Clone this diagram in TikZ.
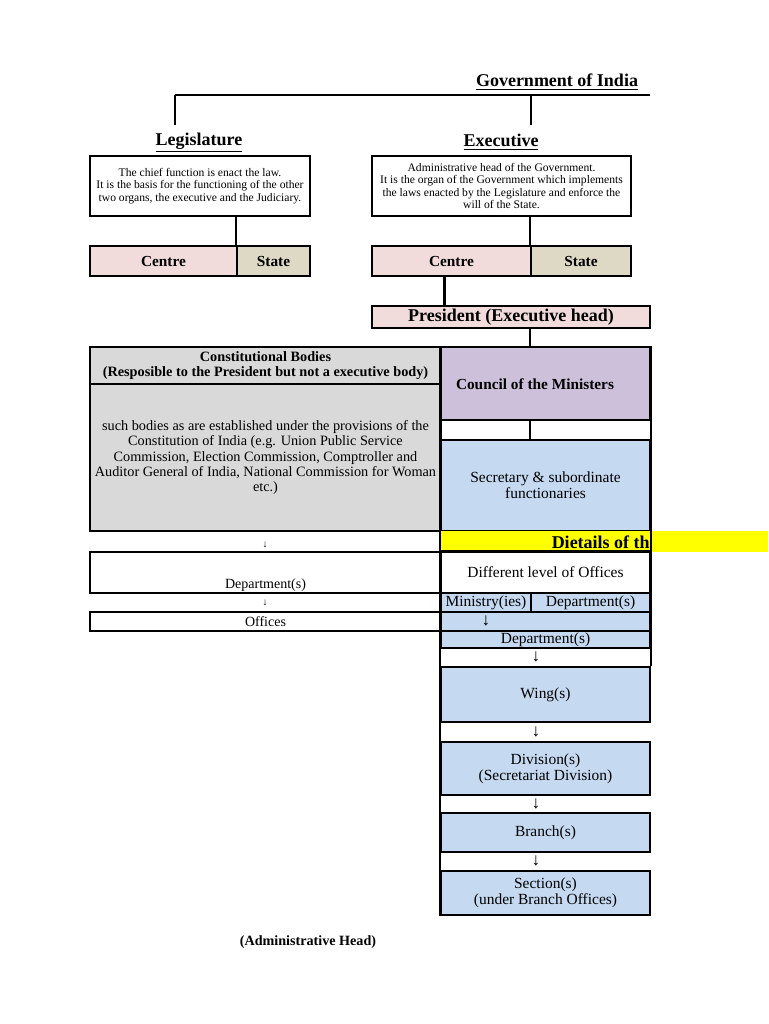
\documentclass[tikz,border=0pt]{standalone}
\usepackage{fontspec}
\setmainfont{Liberation Serif}
\usetikzlibrary{fit}
\definecolor{pinkc}{HTML}{F2DCDB}
\definecolor{tanc}{HTML}{DDD9C4}
\definecolor{grayc}{HTML}{D9D9D9}
\definecolor{purplec}{HTML}{CCC0DA}
\definecolor{bluec}{HTML}{C5D9F1}
\definecolor{yellowc}{HTML}{FFFF00}
\newcommand{\fsz}[2]{\fontsize{#1}{#2}\selectfont}
\begin{document}
\begin{tikzpicture}[x=0.75pt,y=-0.75pt,
  box/.style={draw, line width=1.5pt, inner sep=0pt},
  txt/.style={inner sep=0pt, align=center},
  conn/.style={line width=2.2pt},
  thinconn/.style={line width=1.5pt},
  small/.style={font=\fsz{8.7}{9.4}},
  body/.style={font=\fsz{10.7}{11.3}},
  rbody/.style={font=\fsz{11.6}{12}},
  bodyb/.style={font=\bfseries\fsz{11.5}{12}},
  head/.style={font=\bfseries\fsz{13.5}{15}},
  arrowtxt/.style={font=\fsz{13}{13}},
  tinyarrow/.style={font=\fsz{7.5}{8}}]
\useasboundingbox (0,0) rectangle (768,1024);
\fill[white] (0,0) rectangle (768,1024);

% title
\node[head] (gov) at (557,82) {\underline{Government of India}};
\coordinate (tl) at (175,95);
\coordinate (tm) at (531,95);
\coordinate (tr) at (650,95);
\coordinate (tlb) at (175,125);
\coordinate (tmb) at (531,125);
\draw[conn] (tl) -- (tr);
\draw[conn] (tl) -- (tlb);
\draw[conn] (tm) -- (tmb);

% legislature
\node[head] (legt) at (199,143) {\underline{Legislature}};
\node[box, fit={(90,156) (310,216)}] (legbox) {};
\node[txt, small] (legtxt) at (legbox.center) {The chief function is enact the law.\\It is the basis for the functioning of the other\\two organs, the executive and the Judiciary.};
\node[box, fill=pinkc, fit={(90,246) (237,276)}] (lcentre) {};
\node[txt, bodyb] (lcentret) at (lcentre.center) {Centre};
\node[box, fill=tanc, fit={(237,246) (310,276)}] (lstate) {};
\node[txt, bodyb] (lstatet) at (lstate.center) {State};
\draw[thinconn] (legbox.south -| lstate.west) -- (lstate.north west);

% executive
\node[head] (exet) at (501,142) {\underline{Executive}};
\node[box, fit={(372,156) (631,216)}] (exbox) {};
\node[txt, small] (extxt) at (exbox.center) {Administrative head of the Government.\\It is the organ of the Government which implements\\the laws enacted by the Legislature and enforce the\\will of the State.};
\node[box, fill=pinkc, fit={(372,246) (531,276)}] (rcentre) {};
\node[txt, bodyb] (rcentret) at (rcentre.center) {Centre};
\node[box, fill=tanc, fit={(531,246) (631,276)}] (rstate) {};
\node[txt, bodyb] (rstatet) at (rstate.center) {State};
\draw[conn] (exbox.south -| rstate.west) -- (rstate.north west);

% president
\node[box, fill=pinkc, fit={(372,306) (650,328)}] (pres) {};
\node[txt, head] (prest) at (pres.center) {President (Executive head)};
\draw[conn] ([xshift=-5.5pt]rcentre.south) -- ([xshift=-5.5pt]rcentre.south |- pres.north);

% constitutional bodies
\node[box, fill=grayc, fit={(90,347) (441,384)}] (cbhead) {};
\node[txt, font=\bfseries\fsz{10.7}{11.5}] (cbheadt) at (cbhead.center) {Constitutional Bodies\\(Resposible to the President but not a executive body)};
\node[box, fill=grayc, fit={(90,384) (441,531)}] (cbbody) {};
\node[txt, body] (cbbodyt) at (cbbody.center) {such bodies as are established under the provisions of the\\Constitution of India (e.g. Union Public Service\\Commission, Election Commission, Comptroller and\\Auditor General of India, National Commission for Woman\\etc.)};

% council
\node[box, fill=purplec, fit={(441,347) (650,420)}] (council) {};
\node[txt, bodyb] (councilt) at (535,384) {Council of the Ministers};
\draw[conn] (pres.south -| rstate.west) -- (council.north -| rstate.west);
\node[box, fill=bluec, fit={(441,440) (650,531)}] (sec) {};
\node[txt, rbody] (sect) at (sec.center) {Secretary \& subordinate\\functionaries};
\draw[conn] (council.south -| rstate.west) -- (sec.north -| rstate.west);

% details band
\fill[yellowc] (441,531) rectangle (768,552);
\node[font=\bfseries\fsz{13.5}{14}, anchor=east, inner sep=0pt] (det) at (650,542.5) {Dietails of th};

% left lower column
\node[tinyarrow] (la1) at (265,545) {↓};
\node[box, fit={(90,552) (441,593)}] (ldept) {};
\node[font=\fsz{10.5}{11}, anchor=south, inner sep=1.5pt] (ldeptt) at (ldept.south) {Department(s)};
\node[tinyarrow] (la2) at (265,603) {↓};
\node[box, fit={(90,612) (441,631)}] (loff) {};
\node[txt, font=\fsz{10.5}{11}] (lofft) at (loff.center) {Offices};

% right lower column
\node[box, fit={(441,552) (650,593)}] (diff) {};
\node[txt, rbody] (difft) at (diff.center) {Different level of Offices};
\node[box, fill=bluec, line width=0.8pt, fit={(441,593) (531,612)}] (min) {};
\node[txt, rbody] (mint) at (min.center) {Ministry(ies)};
\node[box, fill=bluec, line width=0.8pt, fit={(531,593) (650,612)}] (rdept1) {};
\node[txt, rbody] (rdept1t) at (rdept1.center) {Department(s)};
\node[box, fill=bluec, line width=0.8pt, fit={(441,612) (650,631)}] (arow) {};
\node[arrowtxt] (ra0) at (486,621) {↓};
\node[box, fill=bluec, fit={(441,631) (650,648)}] (rdept2) {};
\node[txt, rbody] (rdept2t) at (rdept2.center) {Department(s)};
\node[arrowtxt] (ra1) at (536,657) {↓};
\node[box, fill=bluec, fit={(441,667) (650,722)}] (wing) {};
\node[txt, rbody] (wingt) at (wing.center) {Wing(s)};
\node[arrowtxt] (ra2) at (536,732) {↓};
\node[box, fill=bluec, fit={(441,742) (650,795)}] (div) {};
\node[txt, rbody] (divt) at (div.center) {Division(s)\\(Secretariat Division)};
\node[arrowtxt] (ra3) at (536,804) {↓};
\node[box, fill=bluec, fit={(441,813) (650,852)}] (branch) {};
\node[txt, rbody] (brancht) at (branch.center) {Branch(s)};
\node[arrowtxt] (ra4) at (536,861) {↓};
\node[box, fill=bluec, fit={(441,871) (650,915)}] (section) {};
\node[txt, rbody] (sectiont) at (section.center) {Section(s)\\(under Branch Offices)};

% column borders
\draw[conn] (council.north west) -- (section.south west);
\draw[thinconn] (council.north east) -- (wing.north east);
\draw[thinconn] (diff.north west) -- (diff.north east);

% footer
\node[font=\bfseries\fsz{10.6}{11}] (admin) at (308,942) {(Administrative Head)};
\end{tikzpicture}
\end{document}
